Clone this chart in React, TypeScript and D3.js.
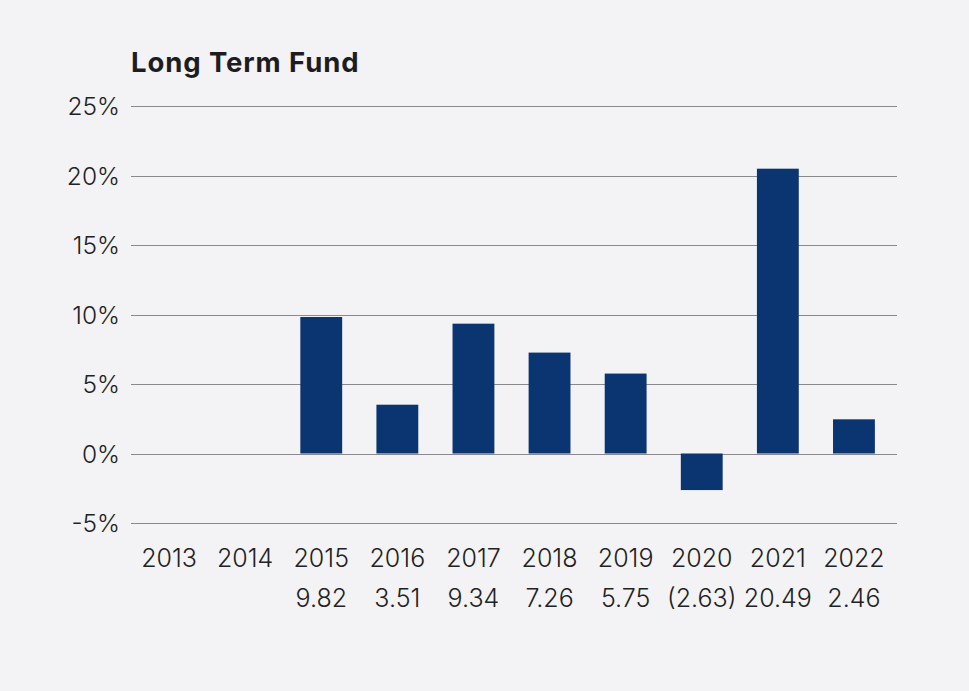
import { useEffect, useRef } from 'react';
import * as d3 from 'd3';

const years = ['2013', '2014', '2015', '2016', '2017', '2018', '2019', '2020', '2021', '2022'];
const returns: (number | null)[] = [null, null, 9.82, 3.51, 9.34, 7.26, 5.75, -2.63, 20.49, 2.46];
const valueLabels = ['', '', '9.82', '3.51', '9.34', '7.26', '5.75', '(2.63)', '20.49', '2.46'];
const yTicks = [-5, 0, 5, 10, 15, 20, 25];

const W = 969;
const H = 691;
const FONT = 'Inter, "Noto Sans", sans-serif';

export default function App() {
  const svgRef = useRef<SVGSVGElement>(null);

  useEffect(() => {
    document.body.style.margin = '0';
    if (!svgRef.current) return;
    const svg = d3.select(svgRef.current);
    svg.selectAll('*').remove();

    svg.append('rect').attr('width', W).attr('height', H).attr('fill', '#f3f3f5');

    const x = d3.scaleBand<string>().domain(years).range([131, 892]).paddingInner(0.45).paddingOuter(0.225);
    const y = d3.scaleLinear().domain([-5, 25]).range([523, 106]);

    svg.append('text')
      .attr('x', 131).attr('y', 72)
      .attr('font-family', FONT).attr('font-weight', 700).attr('font-size', 27.5)
      .attr('letter-spacing', 0.9)
      .attr('fill', '#1e1c1f')
      .text('Long Term Fund');

    const grid = svg.append('g');
    grid.selectAll('line').data(yTicks).join('line')
      .attr('x1', 131).attr('x2', 897)
      .attr('y1', d => Math.round(y(d)) + 0.5).attr('y2', d => Math.round(y(d)) + 0.5)
      .attr('stroke', '#8a8a8e').attr('stroke-width', 1);

    grid.selectAll('text').data(yTicks).join('text')
      .attr('x', 120).attr('y', d => y(d) + 9)
      .attr('text-anchor', 'end')
      .attr('font-family', FONT).attr('font-weight', 300).attr('font-size', 24.5)
      .attr('fill', '#222')
      .text(d => `${d}%`);

    const data = years.map((yr, i) => ({ yr, v: returns[i], label: valueLabels[i] }));

    svg.append('g').selectAll('rect')
      .data(data.filter(d => d.v !== null)).join('rect')
      .attr('x', d => x(d.yr)!)
      .attr('width', x.bandwidth())
      .attr('y', d => y(Math.max(0, d.v as number)))
      .attr('height', d => Math.abs(y(d.v as number) - y(0)))
      .attr('fill', '#0a3571');

    const labels = svg.append('g')
      .attr('font-family', FONT).attr('font-weight', 300).attr('font-size', 25)
      .attr('fill', '#222').attr('text-anchor', 'middle');

    labels.selectAll('text.yr').data(data).join('text')
      .attr('class', 'yr')
      .attr('x', d => x(d.yr)! + x.bandwidth() / 2)
      .attr('y', 567)
      .text(d => d.yr);

    labels.selectAll('text.val').data(data).join('text')
      .attr('class', 'val')
      .attr('x', d => x(d.yr)! + x.bandwidth() / 2)
      .attr('y', 607)
      .text(d => d.label);
  }, []);

  return <svg ref={svgRef} width={W} height={H} style={{ display: 'block' }} />;
}
